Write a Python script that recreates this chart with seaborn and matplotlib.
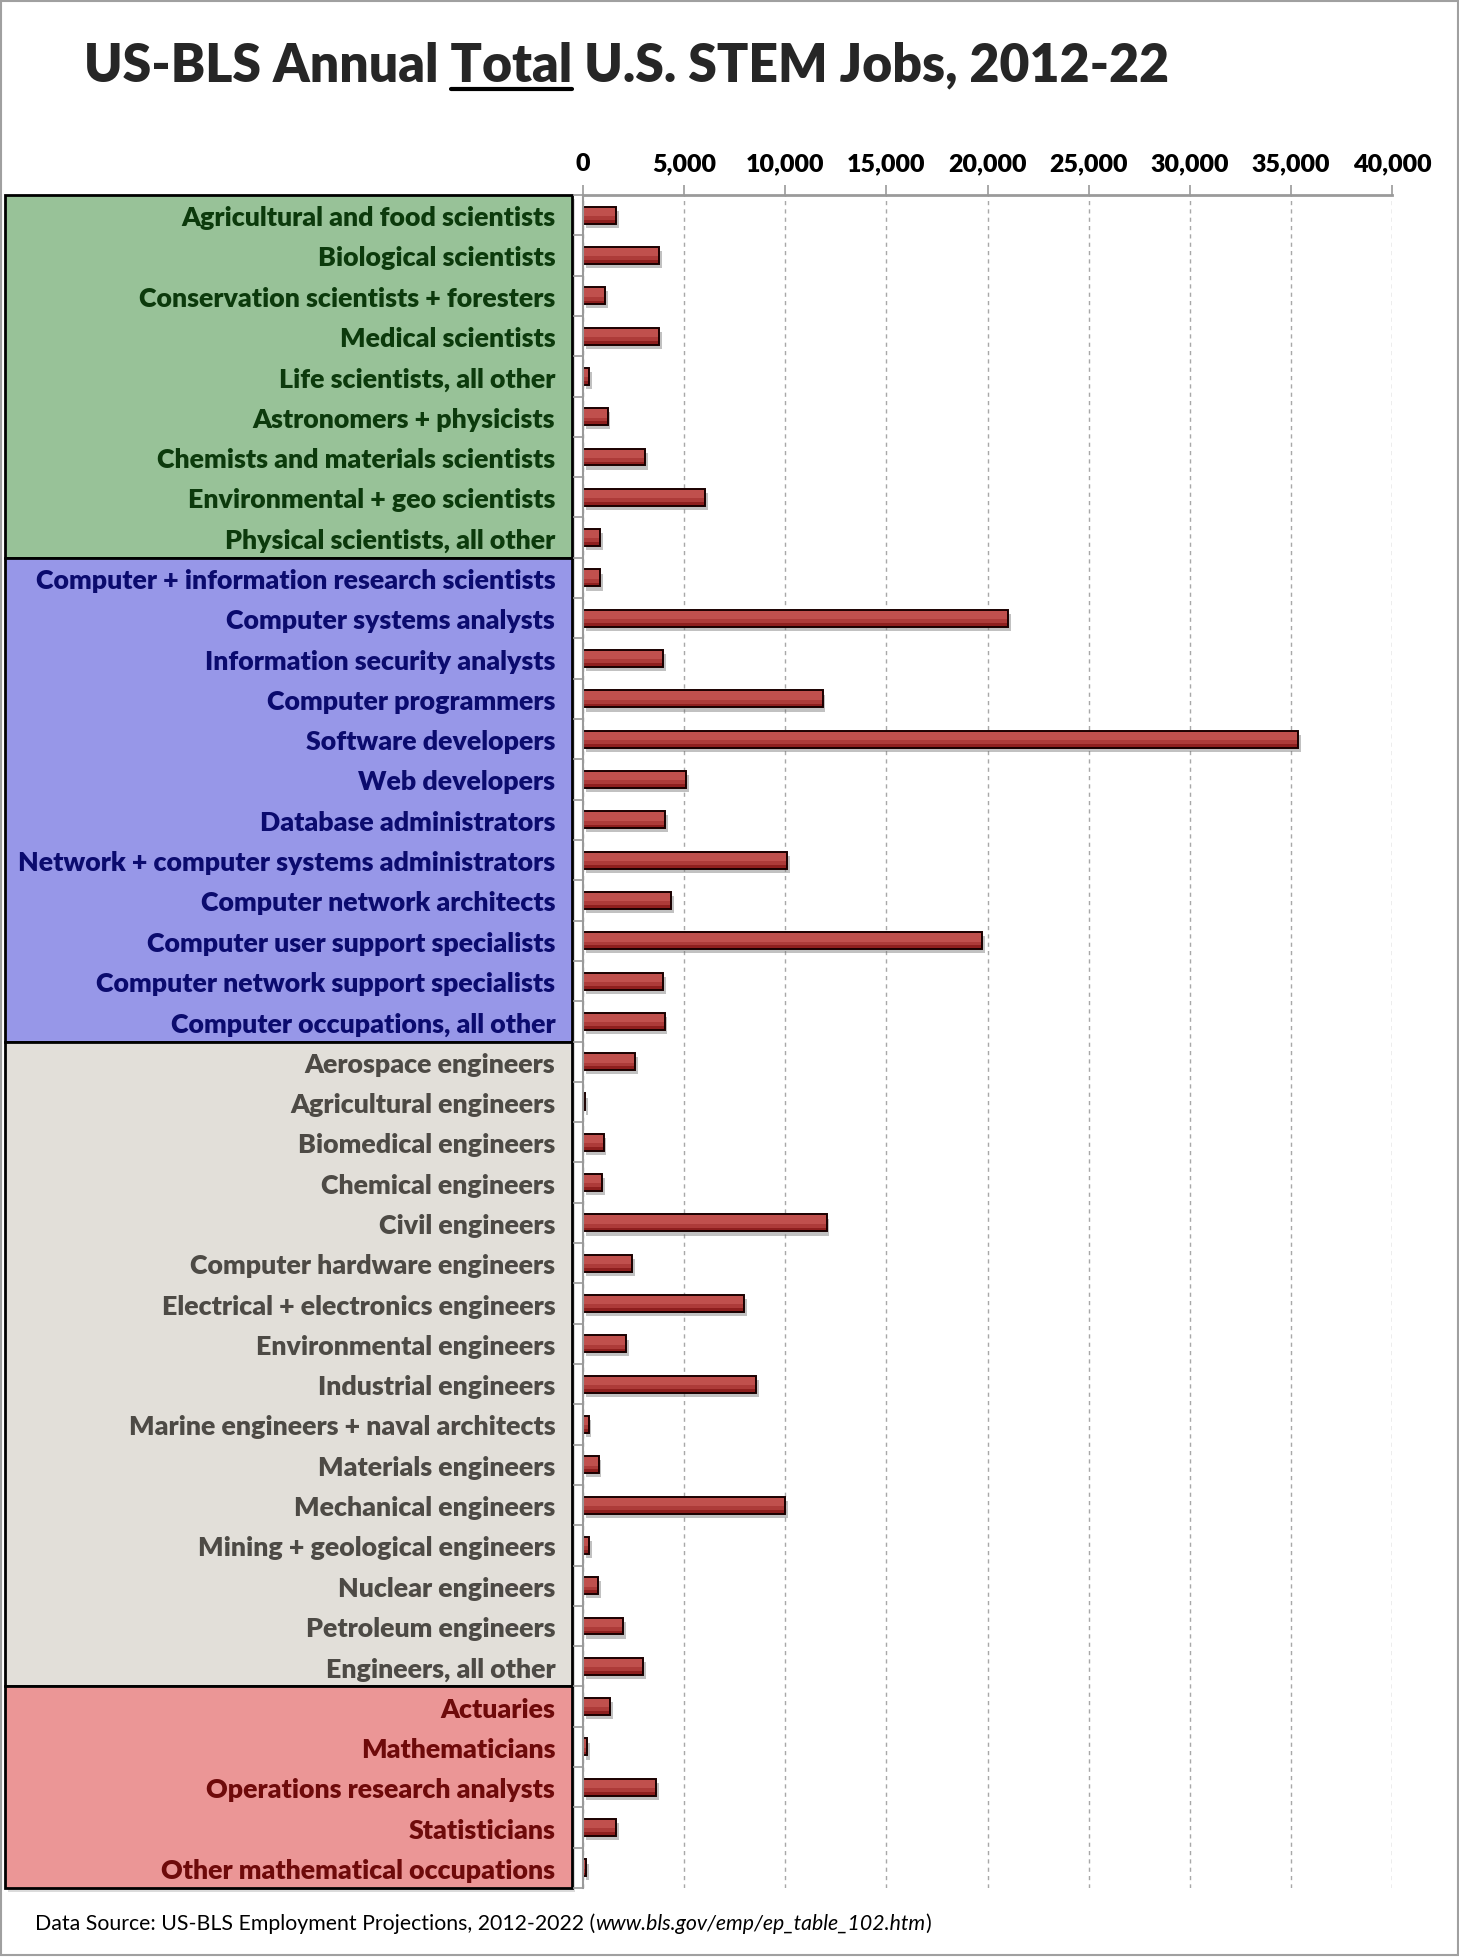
import matplotlib
matplotlib.use("Agg")
import matplotlib.pyplot as plt
import seaborn as sns
import pandas as pd
import numpy as np
from matplotlib.patches import Rectangle
from matplotlib.lines import Line2D
from matplotlib.transforms import blended_transform_factory
from matplotlib.ticker import FuncFormatter
import matplotlib.patheffects as pe

# ---------------- data ----------------
categories = [
    "Agricultural and food scientists",
    "Biological scientists",
    "Conservation scientists + foresters",
    "Medical scientists",
    "Life scientists, all other",
    "Astronomers + physicists",
    "Chemists and materials scientists",
    "Environmental + geo scientists",
    "Physical scientists, all other",
    "Computer + information research scientists",
    "Computer systems analysts",
    "Information security analysts",
    "Computer programmers",
    "Software developers",
    "Web developers",
    "Database administrators",
    "Network + computer systems administrators",
    "Computer network architects",
    "Computer user support specialists",
    "Computer network support specialists",
    "Computer occupations, all other",
    "Aerospace engineers",
    "Agricultural engineers",
    "Biomedical engineers",
    "Chemical engineers",
    "Civil engineers",
    "Computer hardware engineers",
    "Electrical + electronics engineers",
    "Environmental engineers",
    "Industrial engineers",
    "Marine engineers + naval architects",
    "Materials engineers",
    "Mechanical engineers",
    "Mining + geological engineers",
    "Nuclear engineers",
    "Petroleum engineers",
    "Engineers, all other",
    "Actuaries",
    "Mathematicians",
    "Operations research analysts",
    "Statisticians",
    "Other mathematical occupations",
]
jobs = [
    1650, 3750, 1080, 3750, 310, 1220, 3070, 6020, 850,
    850, 21000, 3950, 11850, 35350, 5090, 4060, 10090, 4350, 19720, 3980, 4030,
    2560, 90, 1020, 940, 12050, 2440, 7980, 2130, 8550, 280, 770, 10000, 310, 740, 1990, 2980,
    1340, 200, 3610, 1620, 170,
]
groups = (["Science"] * 9 + ["Computer"] * 12 + ["Engineering"] * 16 + ["Math"] * 5)
group_order = ["Science", "Computer", "Engineering", "Math"]
box_colors = {"Science": "#98c298", "Computer": "#9797e8",
              "Engineering": "#e2dfd9", "Math": "#eb9696"}
text_colors = {"Science": "#0c3a0c", "Computer": "#0b0b6e",
               "Engineering": "#4d4a45", "Math": "#6e0a0a"}
x_ticks = [0, 5000, 10000, 15000, 20000, 25000, 30000, 35000, 40000]

title_text = "US-BLS Annual Total U.S. STEM Jobs, 2012-22"
source_parts = ["Data Source: US-BLS Employment Projections, 2012-2022 (",
                "www.bls.gov/emp/ep_table_102.htm", ")"]

# ---------------- figure ----------------
W, H = 1459, 1958
sns.set_theme(style="white")
plt.rcParams['font.family'] = ['Lato', 'DejaVu Sans']

fig = plt.figure(figsize=(W / 100, H / 100), dpi=100)
ax_left, ax_right, ax_top, ax_bottom = 583, 1392, 196, 1889
ax = fig.add_axes([ax_left / W, 1 - ax_bottom / H,
                   (ax_right - ax_left) / W, (ax_bottom - ax_top) / H])

df = pd.DataFrame({"occupation": categories, "jobs": jobs})
sns.barplot(data=df, x="jobs", y="occupation", orient="h", color="#c0504d",
            saturation=1, edgecolor="none", linewidth=0, width=0.42, ax=ax)

bars = list(ax.patches)
for p in bars:
    p.set_path_effects([pe.SimplePatchShadow(offset=(2, -3), shadow_rgbFace="#777777", alpha=0.45),
                        pe.Normal()])
    x0, y0, w, h = p.get_x(), p.get_y(), p.get_width(), p.get_height()
    z = p.get_zorder()
    # darker lower band (3D look); y axis inverted so y0 + h is the bottom edge
    ax.add_patch(Rectangle((x0, y0 + 0.55 * h), w, 0.45 * h, facecolor="#ad3b39",
                           edgecolor="none", zorder=z + 0.1))
    ax.add_patch(Rectangle((x0, y0 + 0.78 * h), w, 0.22 * h, facecolor="#8e1f1e",
                           edgecolor="none", zorder=z + 0.2))
    ax.add_patch(Rectangle((x0, y0), w, h, facecolor="none", edgecolor="#1a0000",
                           linewidth=1.4, zorder=z + 0.3))

ax.set_xlim(0, 40000)
ax.set_ylim(len(categories) - 0.5, -0.5)
ax.set_xlabel("")
ax.set_ylabel("")

# x axis on top
ax.xaxis.tick_top()
ax.set_xticks(x_ticks)
ax.xaxis.set_major_formatter(FuncFormatter(lambda v, p: f"{int(v):,}"))
ax.tick_params(axis='x', which='major', top=True, bottom=False, length=7,
               width=1.2, color='#999999', pad=8, labelsize=18, labelcolor='black')
for lbl in ax.get_xticklabels():
    lbl.set_fontweight('heavy')
ax.grid(axis='x', linestyle=(0, (3, 3)), color='#a8a8a8', linewidth=1.0)
ax.grid(axis='y', visible=False)

for s in ["right", "bottom"]:
    ax.spines[s].set_visible(False)
ax.spines["top"].set_color("#9a9a9a")
ax.spines["top"].set_linewidth(2)
ax.spines["left"].set_color("#9a9a9a")
ax.spines["left"].set_linewidth(1.5)

# y ticks: labels at categories, small tick marks at boundaries
ax.set_yticks(np.arange(-0.5, len(categories)), minor=True)
ax.tick_params(axis='y', which='major', left=False, length=0, pad=20, labelsize=19.3)
ax.tick_params(axis='y', which='minor', left=True, length=7, width=1.2, color='#9a9a9a')
for lbl, g in zip(ax.get_yticklabels(), groups):
    lbl.set_color(text_colors[g])
    lbl.set_fontweight('heavy')

# group boxes behind labels
trans = blended_transform_factory(fig.transFigure, ax.transData)
start = 0
for g in group_order:
    n = groups.count(g)
    rect = Rectangle((5 / W, start - 0.5), 567 / W, n, transform=trans,
                     facecolor=box_colors[g], edgecolor="black", linewidth=2,
                     zorder=-1, clip_on=False)
    rect.set_path_effects([pe.SimplePatchShadow(offset=(2, -3), shadow_rgbFace="#888888", alpha=0.3),
                           pe.Normal()])
    fig.add_artist(rect)
    start += n

# title with underlined "Total"
tx, ty = 84 / W, 1 - 81 / H
tfs = 37.3
t = fig.text(tx, ty, title_text, fontsize=tfs, fontweight='heavy', va='baseline', ha='left')
fig.canvas.draw()
r = fig.canvas.get_renderer()
tmp1 = fig.text(tx, ty, "US-BLS Annual Total", fontsize=tfs, fontweight='heavy', va='baseline')
tmp2 = fig.text(tx, ty, "Total", fontsize=tfs, fontweight='heavy', va='baseline')
w1 = tmp1.get_window_extent(r).width
w2 = tmp2.get_window_extent(r).width
tmp1.remove(); tmp2.remove()
x_end = tx * W + w1
x_start = x_end - w2
uy = 1 - 90 / H
fig.add_artist(Line2D([x_start / W, x_end / W], [uy, uy], transform=fig.transFigure,
                      color='black', linewidth=3))

# footer with italic URL
fx = 35 / W
fy = 1 - 1930 / H
styles = ['normal', 'italic', 'normal']
for part, st in zip(source_parts, styles):
    tt = fig.text(fx, fy, part, fontsize=15.3, style=st, va='baseline', ha='left', color='black')
    fig.canvas.draw()
    fx += tt.get_window_extent(r).width / W

# chart border
fig.add_artist(Rectangle((0.0008, 0.0008), 0.9984, 0.9984, transform=fig.transFigure,
                         fill=False, edgecolor="#a0a0a0", linewidth=1.5))

fig.savefig("out.png", dpi=100)
